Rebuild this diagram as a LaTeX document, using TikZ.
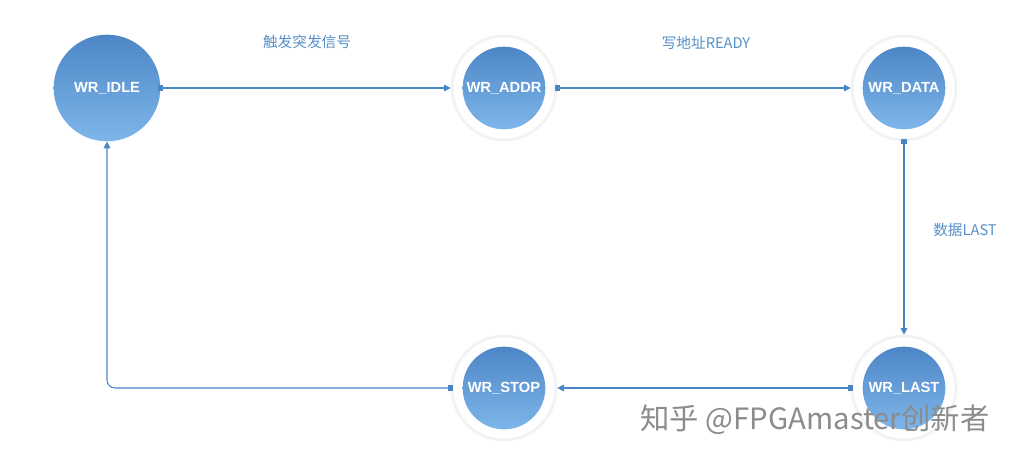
\documentclass[tikz,border=0pt]{standalone}
\usepackage{fontspec}
\setmainfont{Liberation Sans}
\newfontfamily\cjk{Noto Sans CJK SC}
\usetikzlibrary{arrows.meta,shadings}
\definecolor{edge}{HTML}{4A86C5}
\definecolor{lab}{HTML}{5590C8}
\definecolor{bTop}{HTML}{4D86C6}
\definecolor{bBot}{HTML}{7EB6EA}
\tikzset{
  st/.style={circle,minimum size=#1,inner sep=0pt,top color=bTop,bottom color=bBot,
    text=white,font=\bfseries\fontsize{11}{11}\selectfont},
  ring/.style={circle,fill=white,minimum size=78pt,draw=black!5,line width=2pt},
  conn/.style={draw=edge,line width=0.8pt,-{Triangle[length=5pt,width=5pt]}},
  sq/.style={fill=edge,minimum size=4pt,inner sep=0pt},
  lbl/.style={text=lab,font=\cjk\fontsize{11}{11}\selectfont}
}
\begin{document}
\begin{tikzpicture}[x=0.75pt,y=-0.75pt]
\useasboundingbox[fill=white] (0,0) rectangle (1018,461);
\node[st=80pt] (idle) at (107,88) {WR\_IDLE};
\foreach \n/\t/\x/\y in {addr/WR\_ADDR/504/88, data/WR\_DATA/904/88, last/WR\_LAST/904/388, stop/WR\_STOP/504/388}{
  \node[ring] (r\n) at (\x,\y) {};
  \node[st=62pt] (\n) at (\x,\y) {\t};
}
\draw[conn] (idle.east) -- (raddr.west);
\node[sq] at (idle.east) {};
\draw[conn] (raddr.east) -- (rdata.west);
\node[sq] at (raddr.east) {};
\draw[conn] (rdata.south) -- (rlast.north);
\node[sq] at (rdata.south) {};
\draw[conn] (rlast.west) -- (rstop.east);
\node[sq] at (rlast.west) {};
\draw[conn,rounded corners=6pt] (rstop.west) -| (idle.south);
\node[sq] at (rstop.west) {};
\node[lbl] (l1) at (307,42) {触发突发信号};
\node[lbl] (l2) at (706,43) {写地址READY};
\node[lbl] (l3) at (965,230) {数据LAST};
\node[text=black!45,font=\cjk\fontsize{22}{22}\selectfont] (wm) at (815,420) {知乎 @FPGAmaster创新者};
\end{tikzpicture}
\end{document}
